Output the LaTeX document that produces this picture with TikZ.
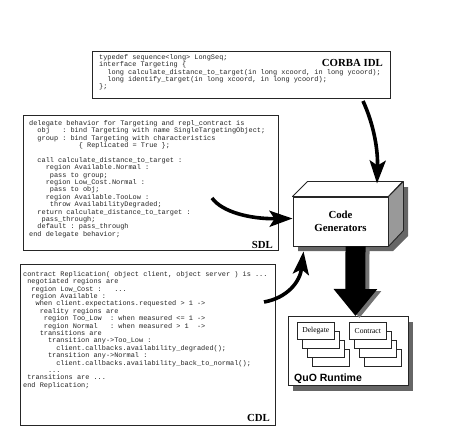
\documentclass[tikz,border=0pt]{standalone}
\usepackage{fontspec}
\setmonofont{Liberation Mono}
\newfontfamily\timesfont{Liberation Serif}
\newfontfamily\arialfont{Liberation Sans}
\usetikzlibrary{arrows.meta,positioning}

\newcommand\ind[1]{\hspace*{#1\fontcharwd\font`M}}

\tikzset{
  langbox/.style={draw=black!85, line width=0.9pt, fill=white, anchor=north west, inner sep=0pt},
  code/.style={anchor=north west, inner sep=0pt, align=left, text=black!85,
    font=\fontsize{6.9}{7.4}\selectfont\ttfamily},
  langname/.style={anchor=base east, inner sep=0pt,
    font=\fontsize{10.8}{12}\selectfont\timesfont\bfseries},
  card/.style={draw=black!85, line width=0.6pt, fill=white, anchor=north west,
    minimum width=37pt, minimum height=17pt, inner sep=0pt,
    font=\fontsize{7.6}{9}\selectfont\timesfont},
  feed/.style={line width=3.6pt, -{Stealth[length=23pt,width=16pt,inset=5pt]}},
  bigarrow/.style={line width=20pt, -{Triangle[length=27pt,width=42pt]}}
}

\begin{document}
\begin{tikzpicture}[x=1pt,y=-1pt]
\useasboundingbox (0,0) rectangle (474,441);

% CORBA IDL
\node[langbox, minimum width=298pt, minimum height=47pt] (idlbox) at (92,51) {};
\node[code] (idlcode) at (99,54) {\strut typedef sequence<long> LongSeq;\\
interface Targeting \{\\
\ind2long calculate\_distance\_to\_target(in long xcoord, in long ycoord);\\
\ind2long identify\_target(in long xcoord, in long ycoord);\\
\};};
\node[langname] (idllabel) at (383,66.5) {CORBA IDL};

% SDL
\node[langbox, minimum width=255pt, minimum height=135pt] (sdlbox) at (23,115) {};
\node[code] (sdlcode) at (29,120) {\strut delegate behavior for Targeting and repl\_contract is\\
\ind2obj~~~: bind Targeting with name SingleTargetingObject;\\
\ind2group : bind Targeting with characteristics\\
\ind{12}\{ Replicated = True \};\\
\strut\\
\ind2call calculate\_distance\_to\_target :\\
\ind4region Available.Normal :\\
\ind5pass to group;\\
\ind4region Low\_Cost.Normal :\\
\ind5pass to obj;\\
\ind4region Available.TooLow :\\
\ind5throw AvailabilityDegraded;\\
\ind2return calculate\_distance\_to\_target :\\
\ind3pass\_through;\\
\ind2default : pass\_through\\
end delegate behavior;};
\node[langname] (sdllabel) at (273,248) {SDL};

% CDL
\node[langbox, minimum width=255pt, minimum height=161pt] (cdlbox) at (20,264) {};
\node[code] (cdlcode) at (23,271) {\strut contract Replication( object client, object server ) is ...\\
\ind1negotiated regions are\\
\ind2region Low\_Cost :~~~...\\
\ind2region Available :\\
\ind3when client.expectations.requested > 1 ->\\
\ind4reality regions are\\
\ind5region Too\_Low~~: when measured <= 1 ->\\
\ind5region Normal~~~: when measured > 1~~->\\
\ind4transitions are\\
\ind6transition any->Too\_Low :\\
\ind8client.callbacks.availability\_degraded();\\
\ind6transition any->Normal :\\
\ind8client.callbacks.availability\_back\_to\_normal();\\
\ind6...\\
\ind1transitions are ...\\
end Replication;};
\node[langname] (cdllabel) at (270,421) {CDL};

% QuO runtime
\fill[black!60] (293,322) rectangle (413,391);
\node[langbox, minimum width=120pt, minimum height=69pt] (quo) at (288,316) {};
\foreach \k in {3,2,1} {
  \node[card] (delcard\k) at (297+5*\k,322+9*\k) {};
  \node[card] (concard\k) at (349+5*\k,322+9*\k) {};
}
\node[card] (delcard0) at (297,322) {Delegate};
\node[card] (concard0) at (349,322) {Contract};
\node[anchor=base west, inner sep=0pt, font=\fontsize{10.5}{12}\selectfont\arialfont\bfseries]
  (quolabel) at (294,381) {QuO Runtime};

% code generators
\fill[black!60] (298,202) -- (313,187) -- (408,187) -- (408,236) -- (393,251) -- (298,251) -- cycle;
\node[draw=black!85, line width=0.9pt, fill=white, minimum width=95pt, minimum height=49pt,
  align=center, font=\fontsize{10.8}{13}\selectfont\timesfont\bfseries] (gen) at (340.5,221.5) {Code\\Generators};
\draw[draw=black!85, line width=0.9pt, fill=white, line join=round]
  (gen.north west) -- ++(15,-15) -- ++(95,0) -- (gen.north east) -- cycle;
\draw[draw=black!85, line width=0.9pt, fill=black!40, line join=round]
  (gen.north east) -- ++(15,-15) -- ++(0,49) -- (gen.south east) -- cycle;

\draw[bigarrow, black!55] ([xshift=19pt,yshift=-2pt]gen.south) -- ([xshift=11pt,yshift=-2pt]quo.north);
\draw[bigarrow] ([xshift=15pt]gen.south) -- ([xshift=7pt]quo.north);

% feeds
\coordinate (idlfoot) at (363,101);
\coordinate (sdlfoot) at (212,198);
\coordinate (cdlfoot) at (264,302);
\draw[feed] (idlfoot) .. controls (374,125) and (378,150) .. ([xshift=36.5pt,yshift=13pt]gen.north);
\draw[feed] (sdlfoot) .. controls (222,212) and (250,219) .. ([yshift=3pt]gen.west);
\draw[feed] (cdlfoot) .. controls (287,298) and (300,282) .. ([xshift=11pt,yshift=-5pt]gen.south west);
\end{tikzpicture}
\end{document}
